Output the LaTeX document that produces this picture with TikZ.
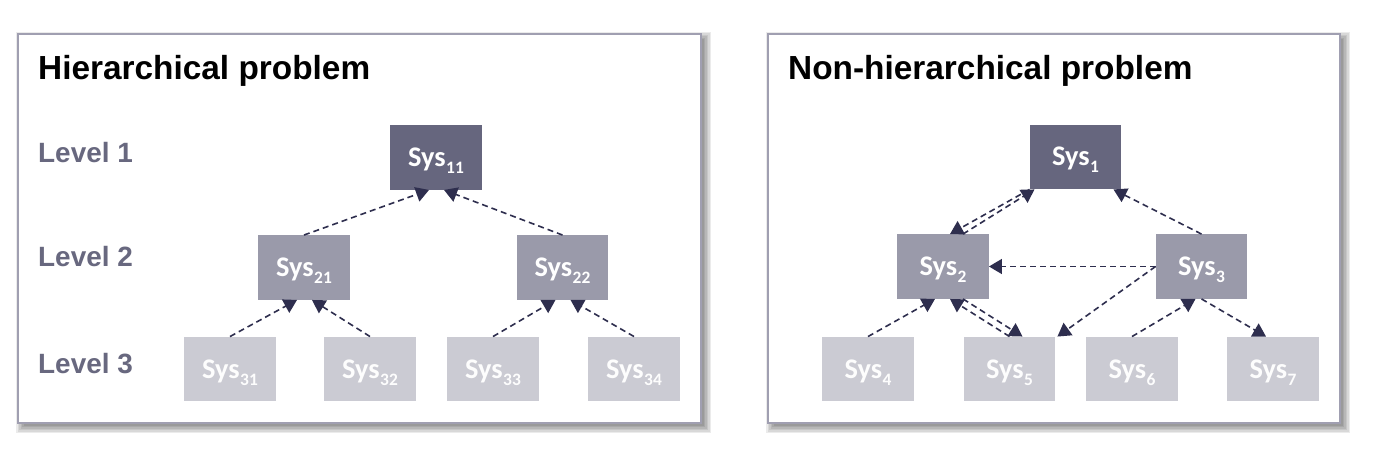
\documentclass[tikz,border=0pt]{standalone}
\usepackage{fontspec}
\setmainfont{Liberation Sans}
\newfontfamily\calib{Carlito}
\usetikzlibrary{arrows.meta,calc}
\definecolor{dk}{HTML}{66667E}
\definecolor{md}{HTML}{9A9AAA}
\definecolor{lt}{HTML}{CBCBD3}
\definecolor{arr}{HTML}{2E2E4E}
\definecolor{lvl}{HTML}{68687F}
\definecolor{frm}{HTML}{A09FB1}
\newcommand\sysl[1]{Sys\kern0.5bp\raisebox{-7bp}{\fontsize{17.5}{17.5}\selectfont #1}}
\begin{document}
\begin{tikzpicture}[x=1bp,y=-1bp,
  sysbox/.style={minimum width=91.5bp, minimum height=64.5bp, inner sep=0pt, text=white,
    font=\calib\bfseries\fontsize{28.5}{28.5}\selectfont, text height=18bp, text depth=0bp},
  lone/.style={sysbox, fill=dk},
  ltwo/.style={sysbox, fill=md},
  lthree/.style={sysbox, fill=lt, text=white!96!lt},
  title/.style={anchor=base west, inner sep=0pt, font=\bfseries\fontsize{33.5}{36}\selectfont, text=black},
  lvlab/.style={anchor=base west, inner sep=0pt, font=\bfseries\fontsize{28}{30}\selectfont, text=lvl},
  frame/.style={draw=frm, line width=2bp, fill=white},
  link/.style={draw=arr, line width=1.6bp, dash pattern=on 6bp off 4bp, -{Triangle[length=13bp,width=15bp]}},
]
\useasboundingbox (0,0) rectangle (1377,465);
\fill[white] (0,0) rectangle (1377,465);
% shadows
\foreach \e in {6,4.5,3,1.5,0,-1.5,-3,-4.5}{
  \fill[black,opacity=0.08] (18+4-\e,34+4-\e) rectangle (701+4+\e,423+4+\e);
  \fill[black,opacity=0.08] (768+4-\e,34+4-\e) rectangle (1340+4+\e,423+4+\e);
}
\draw[frame] (18,34) rectangle (701,423);
\draw[frame] (768,34) rectangle (1340,423);

% left panel
\node[title] (t1) at (38,80) {Hierarchical problem};
\node[lvlab] (lv1) at (38,163) {Level 1};
\node[lvlab] (lv2) at (38,267) {Level 2};
\node[lvlab] (lv3) at (38,373) {Level 3};

\node[lone] (s11) at (436,157.5) {\sysl{11}};
\node[ltwo] (s21) at (304,267.5) {\sysl{21}};
\node[ltwo] (s22) at (562.5,267.5) {\sysl{22}};
\node[lthree] (s31) at (230,369) {\sysl{31}};
\node[lthree] (s32) at (370,369) {\sysl{32}};
\node[lthree] (s33) at (493,369) {\sysl{33}};
\node[lthree] (s34) at (634,369) {\sysl{34}};

\draw[link] (s21.north) -- ($(s11.south)+(-7,0)$);
\draw[link] (s22.north) -- ($(s11.south)+(8,0)$);
\draw[link] (s31.north) -- ($(s21.south)+(-7,0)$);
\draw[link] (s32.north) -- ($(s21.south)+(8,0)$);
\draw[link] (s33.north) -- ($(s22.south)+(-7,0)$);
\draw[link] (s34.north) -- ($(s22.south)+(8,0)$);

% right panel
\node[title] (t2) at (788,80) {Non-hierarchical problem};

\node[lone] (n1) at (1075.5,157) {\sysl{1}};
\node[ltwo] (n2) at (943,266.5) {\sysl{2}};
\node[ltwo] (n3) at (1201.5,266.5) {\sysl{3}};
\node[lthree] (n4) at (868,369) {\sysl{4}};
\node[lthree] (n5) at (1009.5,369) {\sysl{5}};
\node[lthree] (n6) at (1132,369) {\sysl{6}};
\node[lthree] (n7) at (1273,369) {\sysl{7}};

\draw[link] (n1.south west) -- ($(n2.north)+(7,0)$);
\draw[link] ($(n2.north)+(20,0)$) -- ($(n1.south)+(-41,0)$);
\draw[link] (n3.north) -- ($(n1.south)+(38,0)$);
\draw[link] (n3.west) -- (n2.east);
\draw[link] (n3.west) -- ($(n5.north east)+(2,0)$);
\draw[link] ($(n2.south)+(20,0)$) -- ($(n5.north)+(13,0)$);
\draw[link] (n5.north) -- ($(n2.south)+(7,0)$);
\draw[link] (n4.north) -- ($(n2.south)+(-8,0)$);
\draw[link] (n6.north) -- ($(n3.south)+(-6,0)$);
\draw[link] (n3.south) -- ($(n7.north)+(-7,0)$);
\end{tikzpicture}
\end{document}
